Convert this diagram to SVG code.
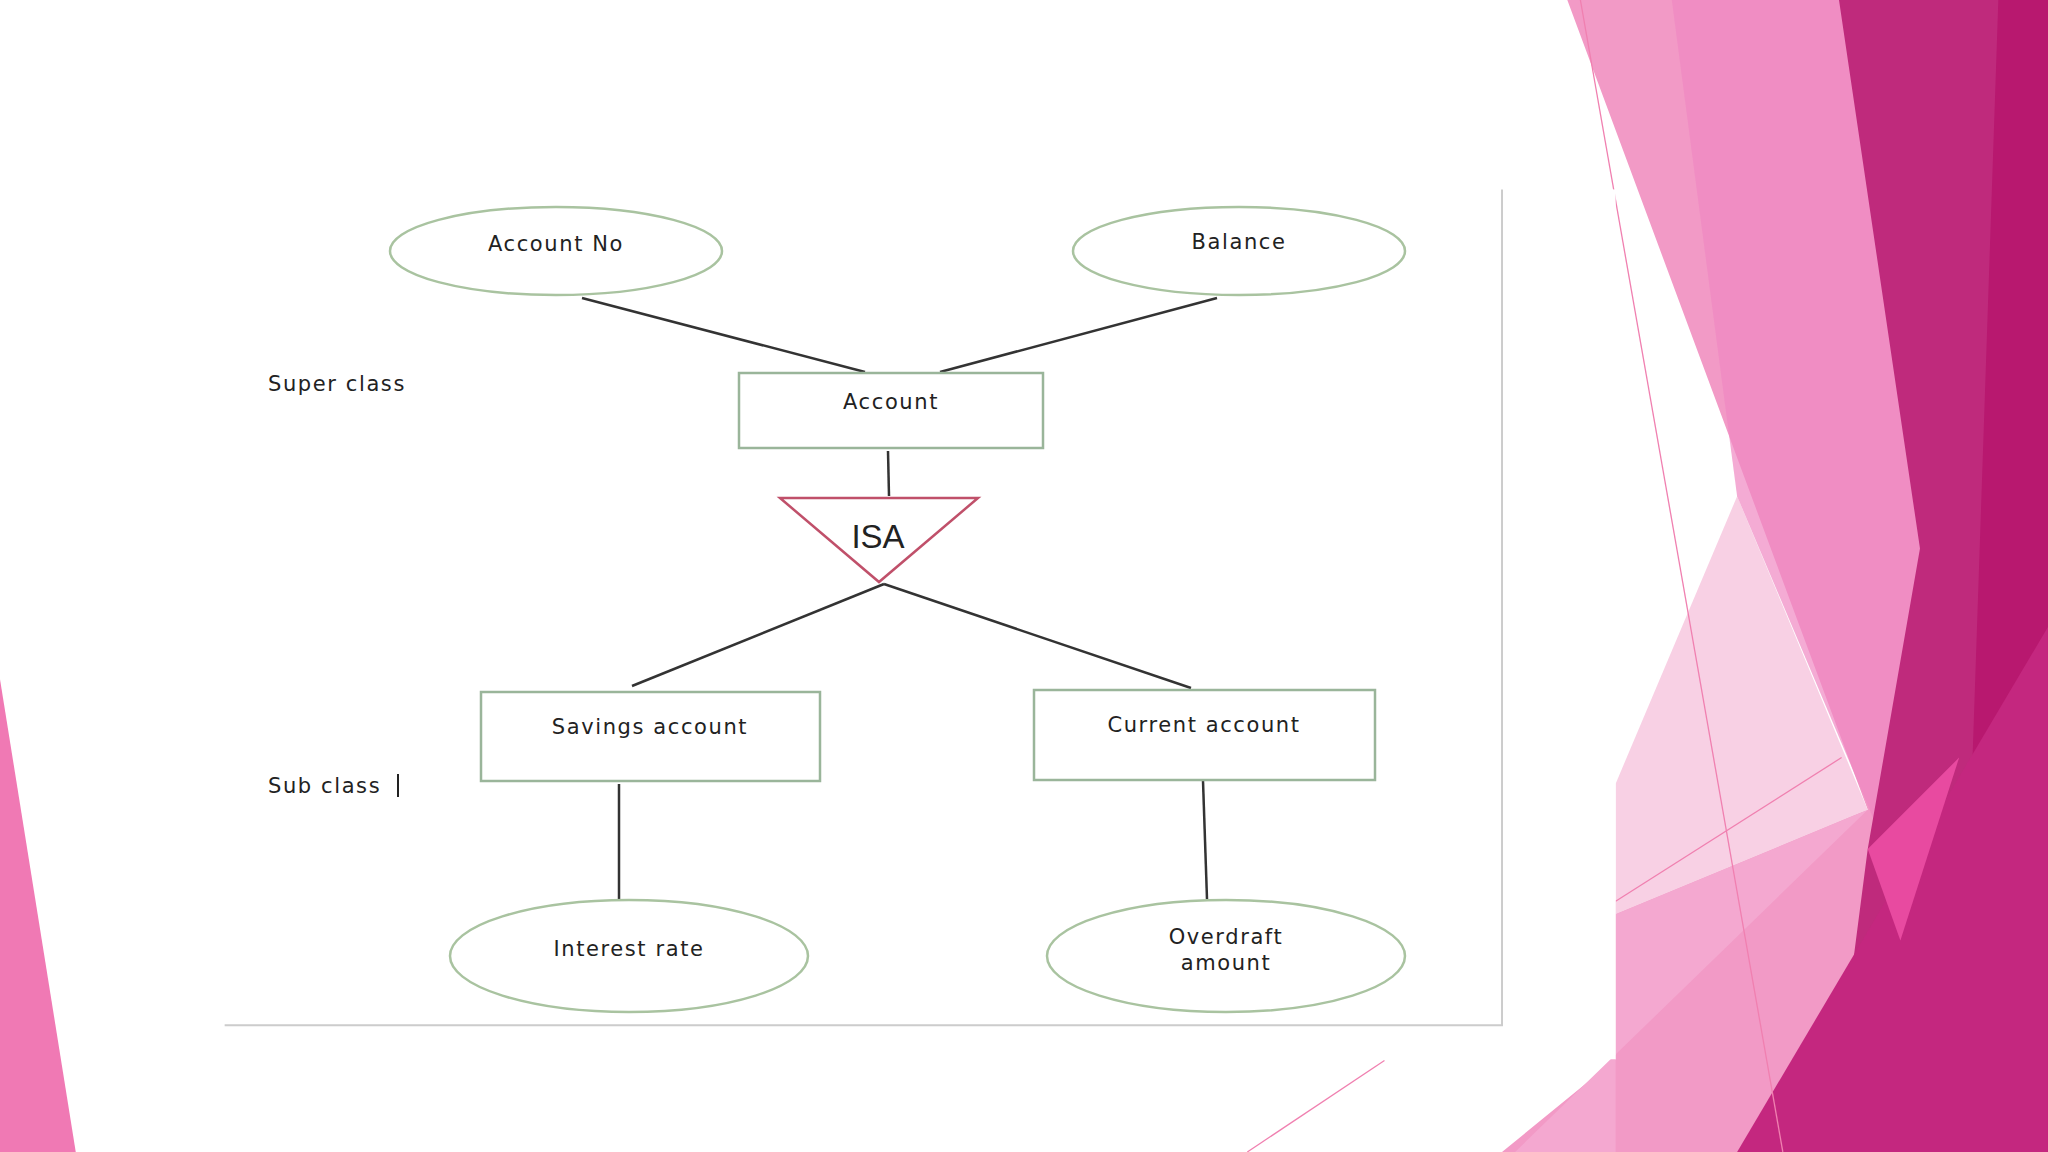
<svg xmlns="http://www.w3.org/2000/svg" width="2048" height="1152" viewBox="0 0 2048 1152">
<style>
.t{font-family:"DejaVu Sans","Liberation Sans",sans-serif;font-size:21px;fill:#222;text-anchor:middle;letter-spacing:1.6px}
.e{fill:#fff;stroke:#a9c3a0;stroke-width:2.5}
.r{fill:#fff;stroke:#9ab59a;stroke-width:2.5}
.c line{stroke:#333;stroke-width:2.5}
</style>
<rect width="2048" height="1152" fill="#fff"/>
<g id="background" transform="scale(1.3061)">
<polygon points="1200,0 1568,0 1568,882 1150,882 1237,811 1237,690 1430,620" fill="#f29ac6"/>
<polygon points="1330,380 1430,620 1237,700 1237,600" fill="#f8d0e4"/>
<polygon points="1237,700 1430,620 1160,882 1237,882" fill="#f4a8d0"/>
<polygon points="1280,0 1410,0 1470,420 1440,640 1330,380" fill="#f088c2" opacity="0.7"/>
<polygon points="1408,0 1568,0 1568,882 1400,882 1430,650 1470,420" fill="#bf2a7c"/>
<polygon points="1530,0 1568,0 1568,882 1500,882" fill="#b8186f"/>
<polygon points="1330,882 1568,480 1568,882" fill="#c4277f"/>
<polygon points="1430,650 1500,580 1455,720" fill="#e84aa0"/>
<line x1="1210" y1="0" x2="1365" y2="882" stroke="#f080b0" stroke-width="1"/>
<line x1="1237" y1="690" x2="1410" y2="580" stroke="#f080b0" stroke-width="1"/>
</g>
<g id="panel" transform="scale(1.3061)">
<rect x="0" y="145" width="1237" height="666" fill="#fff"/>
<polygon points="0,520 58,882 0,882" fill="#f079b4"/>
<line x1="955" y1="882" x2="1060" y2="812" stroke="#f080b0" stroke-width="1"/>
<polyline points="1150,145 1150,785 172,785" fill="none" stroke="#ccc" stroke-width="1.5"/>
</g>
<g class="c" id="connectors">
<line x1="582" y1="298" x2="865" y2="372"/>
<line x1="1217" y1="298" x2="940" y2="372"/>
<line x1="888" y1="451" x2="889" y2="496"/>
<line x1="884" y1="584" x2="632" y2="686"/>
<line x1="884" y1="584" x2="1191" y2="688"/>
<line x1="619" y1="784" x2="619" y2="905"/>
<line x1="1203" y1="781" x2="1207" y2="899"/>
</g>
<g id="accountNo"><ellipse class="e" cx="556" cy="251" rx="166" ry="44"/><text class="t" x="556" y="251">Account No</text></g>
<g id="balance"><ellipse class="e" cx="1239" cy="251" rx="166" ry="44"/><text class="t" x="1239" y="249">Balance</text></g>
<g id="account"><rect class="r" x="739" y="373" width="304" height="75"/><text class="t" x="891" y="409">Account</text></g>
<g id="isa"><polygon points="780,498 978,498 879,582" fill="#fff" stroke="#c0506a" stroke-width="2.5"/><text x="878" y="548" font-family="Liberation Sans,sans-serif" font-size="33" fill="#222" text-anchor="middle">ISA</text></g>
<g id="savings"><rect class="r" x="481" y="692" width="339" height="89"/><text class="t" x="650" y="734">Savings account</text></g>
<g id="current"><rect class="r" x="1034" y="690" width="341" height="90"/><text class="t" x="1204" y="732">Current account</text></g>
<g id="interest"><ellipse class="e" cx="629" cy="956" rx="179" ry="56"/><text class="t" x="629" y="956">Interest rate</text></g>
<g id="overdraft"><ellipse class="e" cx="1226" cy="956" rx="179" ry="56"/><text class="t" x="1226" y="944">Overdraft</text><text class="t" x="1226" y="970">amount</text></g>
<g id="labels">
<text class="t" x="268" y="391" style="text-anchor:start">Super class</text>
<text class="t" x="268" y="793" style="text-anchor:start">Sub class</text>
<line x1="398" y1="774" x2="398" y2="797" stroke="#222" stroke-width="2"/>
</g>
</svg>
